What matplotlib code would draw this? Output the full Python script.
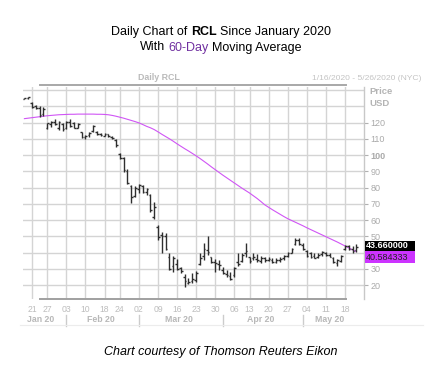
import matplotlib
matplotlib.use("Agg")
import matplotlib.pyplot as plt
from matplotlib.lines import Line2D
from matplotlib.patches import Rectangle
import pandas as pd

# =========================
# Data
# =========================
holidays = ['2020-01-20', '2020-02-17', '2020-04-10']
dates = pd.bdate_range('2020-01-16', '2020-05-21', freq='C', holidays=holidays)

opens = [134.6, 135.0, 132.3, 130.5, 129.0, 125.5, 117.0, 119.0, 120.4, 117.0, 119.5,
         116.5, 120.5, 119.8, 117.0, 114.0, 111.0, 112.5, 115.0, 114.5, 113.0,
         112.0, 112.8, 111.5, 109.5, 101.0, 98.5, 90.5, 81.0, 75.0,
         79.0, 81.0, 77.5, 75.5, 62.0, 55.5, 51.0, 50.0, 37.0, 32.0, 33.0, 30.5,
         25.0, 21.5, 22.5, 23.0, 33.0, 38.0, 41.5, 37.0, 34.5, 33.0,
         29.5, 27.0, 25.5, 26.0, 34.5, 35.0, 40.0, 37.2, 36.5, 36.0, 35.0, 36.5,
         35.2, 35.5, 34.5, 35.2, 36.5, 38.0, 40.0, 45.0, 47.5,
         44.5, 41.0, 39.5, 38.0, 37.5, 39.0, 39.5, 38.8, 36.8, 33.5, 35.0,
         42.5, 43.8, 42.5, 41.5]
highs = [135.3, 135.9, 132.5, 131.0, 130.0, 129.5, 120.0, 121.2, 122.0, 121.0, 120.0,
         121.0, 122.0, 120.5, 120.0, 114.5, 112.5, 114.0, 118.6, 114.8, 113.8,
         113.5, 113.0, 112.0, 110.0, 101.5, 99.0, 91.3, 81.6, 81.0,
         82.0, 81.6, 79.6, 76.0, 71.3, 57.0, 52.8, 52.2, 39.5, 37.9, 35.8, 31.3,
         26.8, 24.1, 27.2, 28.8, 39.5, 45.7, 50.2, 37.4, 35.8, 35.4,
         31.3, 29.2, 28.2, 31.3, 39.9, 39.5, 45.7, 37.4, 39.5, 38.9, 37.9, 37.4,
         37.4, 36.4, 36.4, 37.0, 38.5, 40.5, 42.6, 48.7, 48.7,
         45.7, 41.6, 40.5, 39.9, 39.5, 41.1, 40.5, 39.5, 37.0, 35.8, 38.5,
         44.6, 44.6, 43.9, 45.3]
lows = [134.3, 134.6, 128.8, 128.3, 123.8, 124.2, 116.0, 117.5, 118.5, 115.5, 115.0,
        116.0, 117.3, 116.5, 116.5, 110.8, 110.2, 111.0, 114.5, 112.4, 111.8,
        111.6, 111.0, 110.0, 105.2, 97.4, 89.8, 82.2, 70.3, 74.4,
        76.9, 76.5, 75.5, 65.2, 60.5, 47.7, 39.9, 41.6, 29.2, 28.2, 29.2, 27.2,
        19.0, 20.6, 21.0, 22.0, 32.3, 35.4, 38.5, 33.4, 28.2, 29.2,
        26.8, 25.1, 23.1, 25.1, 31.7, 34.4, 37.4, 33.4, 35.4, 34.4, 33.7, 34.4,
        35.0, 33.7, 33.7, 34.4, 35.4, 37.0, 39.5, 44.6, 44.6,
        41.6, 37.4, 36.4, 36.4, 36.4, 37.9, 37.9, 37.0, 33.7, 31.7, 34.4,
        41.6, 41.6, 39.9, 40.5]
closes = [135.0, 135.6, 129.5, 129.0, 125.0, 128.6, 119.6, 120.4, 119.0, 120.5, 116.0,
          120.5, 118.0, 117.0, 119.5, 111.5, 112.0, 113.5, 117.8, 113.0, 112.5,
          112.8, 112.0, 110.6, 106.2, 98.5, 91.0, 83.0, 74.0, 79.5,
          81.5, 77.5, 79.0, 66.5, 68.0, 49.5, 50.5, 42.5, 30.0, 36.5, 30.0, 28.5,
          22.5, 22.0, 23.5, 27.5, 36.5, 42.5, 40.5, 34.5, 33.5, 32.3,
          27.5, 26.0, 24.0, 30.5, 33.0, 38.5, 40.8, 35.0, 37.5, 35.2, 36.8, 35.5,
          36.0, 34.2, 35.5, 36.2, 37.8, 39.8, 42.0, 48.0, 45.2,
          42.2, 38.0, 37.2, 36.8, 38.5, 40.2, 38.5, 37.5, 34.2, 35.2, 37.8,
          44.0, 42.0, 40.8, 43.66]
ma60 = [122.5, 122.8, 123.1, 123.4, 123.7, 124.0, 124.3, 124.5, 124.7, 124.9, 125.0,
        125.1, 125.2, 125.2, 125.3, 125.3, 125.3, 125.3, 125.3, 125.2, 125.2,
        125.1, 124.9, 124.5, 124.0, 123.4, 122.8, 122.1, 121.4, 120.7,
        119.9, 118.9, 117.8, 116.9, 115.8, 114.4, 112.9, 111.5, 110.1, 108.6, 107.0, 105.5,
        104.0, 102.6, 101.1, 99.6, 98.0, 96.3, 94.6, 92.8, 91.1, 89.4,
        87.7, 86.1, 84.5, 82.9, 81.3, 79.7, 78.2, 76.7, 75.0, 73.3, 71.4, 69.4,
        67.9, 66.4, 65.0, 63.6, 62.2, 60.9, 59.8, 58.7, 57.6,
        56.5, 55.3, 54.2, 53.1, 52.0, 50.9, 49.8, 48.7, 47.6, 46.5, 45.3,
        44.1, 42.9, 41.7, 40.584333]

price_ticks = [20, 30, 40, 50, 60, 70, 80, 90, 100, 110, 120]
grid_levels = price_ticks + [130, 140]

# =========================
# Layout helpers (pixel coords of a 438x377 canvas)
# =========================
W, H = 438, 377
def fx(x):
    return x / W
def fy(y):
    return 1 - y / H

BAR = '#2e2e2e'
MA_COL = '#d055f5'
FONT = 'Liberation Sans'

fig = plt.figure(figsize=(W / 100, H / 100), dpi=100)
fig.patch.set_facecolor('white')
ax = fig.add_axes([fx(22.5), fy(299), fx(364) - fx(22.5), fy(87) - fy(299)])

idx = list(range(len(dates)))

# grid
for lvl in grid_levels:
    ax.axhline(lvl, color='#d4d4d4', lw=1.0, zorder=0)

# weekly ticks: first trading day of each week after the first
week_key = [d.isocalendar()[1] for d in dates]
week_idx = [i for i in idx[1:] if week_key[i] != week_key[i - 1]]
for i in week_idx:
    ax.axvline(i, color='#d4d4d4', lw=1.0, zorder=0)

# OHLC bars
ax.vlines(idx, lows, highs, color=BAR, lw=1.0, zorder=3)
ax.hlines(opens, [i - 0.45 for i in idx], idx, color=BAR, lw=1.0, zorder=3)
ax.hlines(closes, idx, [i + 0.45 for i in idx], color=BAR, lw=1.0, zorder=3)

# 60-day moving average
ax.plot(idx, ma60, color=MA_COL, lw=0.8, zorder=2)

ax.set_xlim(-0.5, 89)
ax.set_ylim(11.4, 142)

for side in ['left', 'top', 'bottom']:
    ax.spines[side].set_visible(False)
ax.spines['right'].set_color('#c8c8c8')
ax.spines['right'].set_linewidth(1.0)

# the "40" label sits under the last-value boxes in the original
ax.yaxis.tick_right()
ax.set_yticks(price_ticks)
ax.set_yticklabels(['' if v == 40 else str(v) for v in price_ticks])
ax.tick_params(axis='y', colors='#b0b0b0', length=3, width=0.8, pad=1.5,
               labelsize=6.5, labelcolor='#aaaaaa')
for lab in ax.get_yticklabels():
    lab.set_fontfamily(FONT)
    if lab.get_text() == '100':
        lab.set_fontweight('bold')

ax.set_xticks(week_idx)
ax.set_xticklabels([dates[i].strftime('%d') for i in week_idx])
ax.tick_params(axis='x', length=0, pad=4, labelsize=6.2, labelcolor='#bdbdbd')
for lab in ax.get_xticklabels():
    lab.set_fontfamily(FONT)

# month labels and separators
months = [d.month for d in dates]
month_starts = [0] + [i for i in idx[1:] if months[i] != months[i - 1]]
month_ends = month_starts[1:] + [len(dates)]
trans = ax.get_xaxis_transform()
for s, e in zip(month_starts, month_ends):
    xc = (s + e - 1) / 2 if s > 0 else (s + e) / 2 - 1.3
    ax.text(xc, -0.099, dates[s].strftime('%b %y'), transform=trans,
            ha='center', va='center', fontsize=6.3, fontweight='bold',
            color='#b8b8b8', family=FONT)
    if s > 0:
        ax.plot([s, s], [-0.075, -0.127], transform=trans, color='#cccccc',
                lw=1.0, clip_on=False)

# frame lines of the Eikon panel
fig.add_artist(Line2D([fx(40), fx(346)], [fy(85), fy(85)], color='#a8a8a8', lw=1.4))
fig.add_artist(Line2D([fx(40), fx(346)], [fy(299), fy(299)], color='#a0a0a0', lw=1.4))
fig.add_artist(Line2D([fx(20), fx(423)], [fy(324.5), fy(324.5)], color='#ececec', lw=0.8))

# header texts
fig.text(fx(159), fy(78), 'Daily RCL', ha='center', va='center', fontsize=6.4,
         fontweight='bold', color='#bbbbbb', family=FONT)
fig.text(fx(421), fy(78), '1/16/2020 - 5/26/2020 (NYC)', ha='right', va='center',
         fontsize=6.1, color='#c4c4c4', family=FONT)
fig.text(fx(369), fy(92), 'Price', ha='left', va='center', fontsize=6.8,
         fontweight='bold', color='#b4b4b4', family=FONT)
fig.text(fx(369), fy(104), 'USD', ha='left', va='center', fontsize=6.8,
         fontweight='bold', color='#b4b4b4', family=FONT)

# last-value boxes
fig.add_artist(Rectangle((fx(365), fy(251)), fx(415) - fx(365), fy(240.5) - fy(251),
                         facecolor='black', edgecolor='none'))
fig.add_artist(Rectangle((fx(365), fy(262.5)), fx(415) - fx(365), fy(251) - fy(262.5),
                         facecolor='#cc33ff', edgecolor='none'))
fig.text(fx(365.5), fy(245.5), '%.6f' % closes[-1], ha='left', va='center', fontsize=6.5,
         fontweight='bold', color='white', family=FONT)
fig.text(fx(365.5), fy(257.2), '%.6f' % ma60[-1], ha='left', va='center', fontsize=6.5,
         color='#222222', family=FONT)

# title with mixed styles
renderer = fig.canvas.get_renderer()
def rich_line(pieces, xc, y, size):
    gap = 0.278 * size * fig.dpi / 72
    items = []
    for s, kw in pieces:
        t = fig.text(0, fy(y), s, fontsize=size, family=FONT, ha='left', va='center', **kw)
        items.append((t, t.get_window_extent(renderer).width))
    total = sum(w for _, w in items) + gap * (len(items) - 1)
    x = xc - total / 2
    for t, w in items:
        t.set_x(fx(x))
        x += w + gap

rich_line([('Daily Chart of', {}), ('RCL', {'fontweight': 'bold'}),
           ('Since January 2020', {})], 221, 32, 9)
rich_line([('With', {}), ('60-Day', {'color': '#7030a0'}),
           ('Moving Average', {})], 221, 47.5, 9)

fig.text(fx(221), fy(352), 'Chart courtesy of Thomson Reuters Eikon', ha='center',
         va='center', fontsize=9, style='italic', family=FONT, color='black')

fig.savefig('out.png', dpi=100)
